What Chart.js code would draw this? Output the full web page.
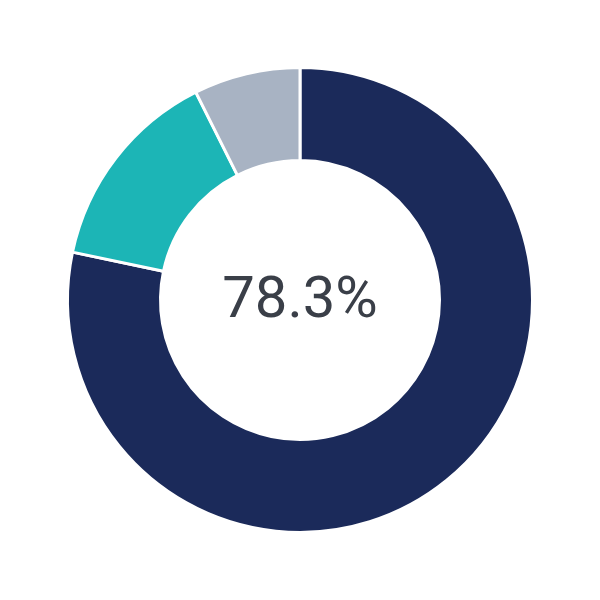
<!DOCTYPE html>
<html>
<head>
<meta charset="utf-8">
<style>
html,body{margin:0;padding:0;background:#fff;}
#wrap{width:600px;height:600px;}
</style>
<script src="https://cdn.jsdelivr.net/npm/chart.js@4/dist/chart.umd.min.js"></script>
</head>
<body>
<div id="wrap"><canvas id="c" width="600" height="600"></canvas></div>
<script>
const categories = ["Primary", "Secondary", "Other"];
const values = [78.3, 14.3, 7.4];
const colors = ["#1b2a5a", "#1cb5b6", "#a8b3c3"];
const centerLabel = "78.3%";

const centerText = {
  id: "centerText",
  afterDraw(chart) {
    const meta = chart.getDatasetMeta(0);
    const arc = meta.data[0];
    const ctx = chart.ctx;
    ctx.save();
    ctx.font = "58px Roboto, 'Liberation Sans', Arial, sans-serif";
    ctx.fillStyle = "#3a3f48";
    ctx.textAlign = "center";
    ctx.textBaseline = "alphabetic";
    ctx.fillText(centerLabel, arc.x, arc.y + 17);
    ctx.restore();
  }
};

new Chart(document.getElementById("c"), {
  type: "doughnut",
  data: {
    labels: categories,
    datasets: [{
      data: values,
      backgroundColor: colors,
      borderColor: "#ffffff",
      borderWidth: 3
    }]
  },
  options: {
    responsive: false,
    animation: false,
    cutout: "60%",
    layout: { padding: 66 },
    plugins: { legend: { display: false }, tooltip: { enabled: false } }
  },
  plugins: [centerText]
});
</script>
</body>
</html>
